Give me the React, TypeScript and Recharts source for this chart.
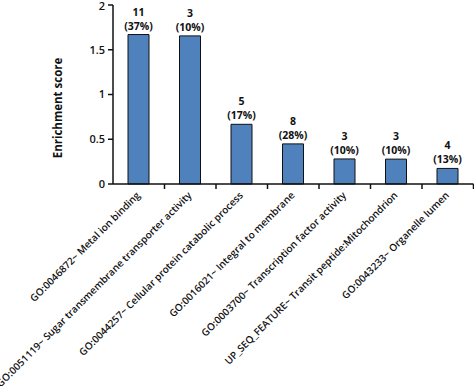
import React from 'react';
import { BarChart, Bar, XAxis, YAxis, LabelList } from 'recharts';

const categories = [
  'GO:0046872~ Metal ion binding',
  'GO:0051119~ Sugar transmembrane transporter activity',
  'GO:0044257~ Cellular protein catabolic process',
  'GO:0016021~ Integral to membrane',
  'GO:0003700~ Transcription factor activity',
  'UP_SEQ_FEATURE~ Transit peptide:Mitochondrion',
  'GO:0043233~ Organelle lumen',
];
const scores = [1.67, 1.655, 0.667, 0.448, 0.28, 0.278, 0.174];
const counts = [11, 3, 5, 8, 3, 3, 4];
const percents = ['37%', '10%', '17%', '28%', '10%', '10%', '13%'];
const yTicks = [0, 0.5, 1, 1.5, 2];

const data = categories.map((c, i) => ({ name: c, score: scores[i], count: counts[i], pct: percents[i] }));

const FONT = '"Open Sans", sans-serif';

const XTick = (props: any) => {
  const { x, y, payload } = props;
  const off = payload && payload.offset != null ? payload.offset : 0;
  const tx = x + 2;
  const ty = y + 12;
  return (
    <g>
      <line x1={x + off} x2={x + off} y1={y} y2={y + 5} stroke="#111" strokeWidth={1.5} />
      <text
        x={tx}
        y={ty}
        transform={`rotate(-45 ${tx} ${ty})`}
        textAnchor="end"
        fontFamily={FONT}
        fontSize={10}
        fontWeight={600}
        fill="#111"
      >
        {payload.value}
      </text>
    </g>
  );
};

const BarLabel = (props: any) => {
  const { x, y, width, index } = props;
  const cx = x + width / 2;
  return (
    <g>
      <text x={cx} y={y - 19} textAnchor="middle" fontFamily={FONT} fontSize={10.5} fontWeight={700} fill="#111">
        {counts[index]}
      </text>
      <text x={cx} y={y - 5} textAnchor="middle" fontFamily={FONT} fontSize={10.5} fontWeight={700} fill="#111">
        ({percents[index]})
      </text>
    </g>
  );
};

export default function App() {
  return (
    <div style={{ position: 'absolute', left: 0, top: 0, background: '#fff' }}>
      <BarChart width={474} height={387} data={data} margin={{ top: 5, right: 0.5, bottom: 0, left: 0 }}>
        <XAxis
          dataKey="name"
          height={203}
          interval={0}
          tickLine={false}
          tickSize={0}
          tickMargin={0}
          axisLine={{ stroke: '#111', strokeWidth: 1.5 }}
          tick={<XTick />}
        />
        <YAxis
          width={113}
          domain={[0, 2]}
          ticks={yTicks}
          tickSize={5}
          tickMargin={3}
          axisLine={{ stroke: '#111', strokeWidth: 1.5 }}
          tickLine={{ stroke: '#111', strokeWidth: 1.5 }}
          tick={{ fontFamily: FONT, fontSize: 11, fontWeight: 600, fill: '#111' }}
          tickFormatter={(v: number) => String(v)}
          label={{
            content: () => (
              <text
                transform="translate(62,108) rotate(-90)"
                textAnchor="middle"
                fontFamily={FONT}
                fontSize={11.5}
                fontWeight={700}
                fill="#111"
              >
                Enrichment score
              </text>
            ),
          }}
        />
        <Bar dataKey="score" fill="#4F81BD" stroke="#111" strokeWidth={1} barSize={21} isAnimationActive={false}>
          <LabelList dataKey="score" content={<BarLabel />} />
        </Bar>
      </BarChart>
    </div>
  );
}
